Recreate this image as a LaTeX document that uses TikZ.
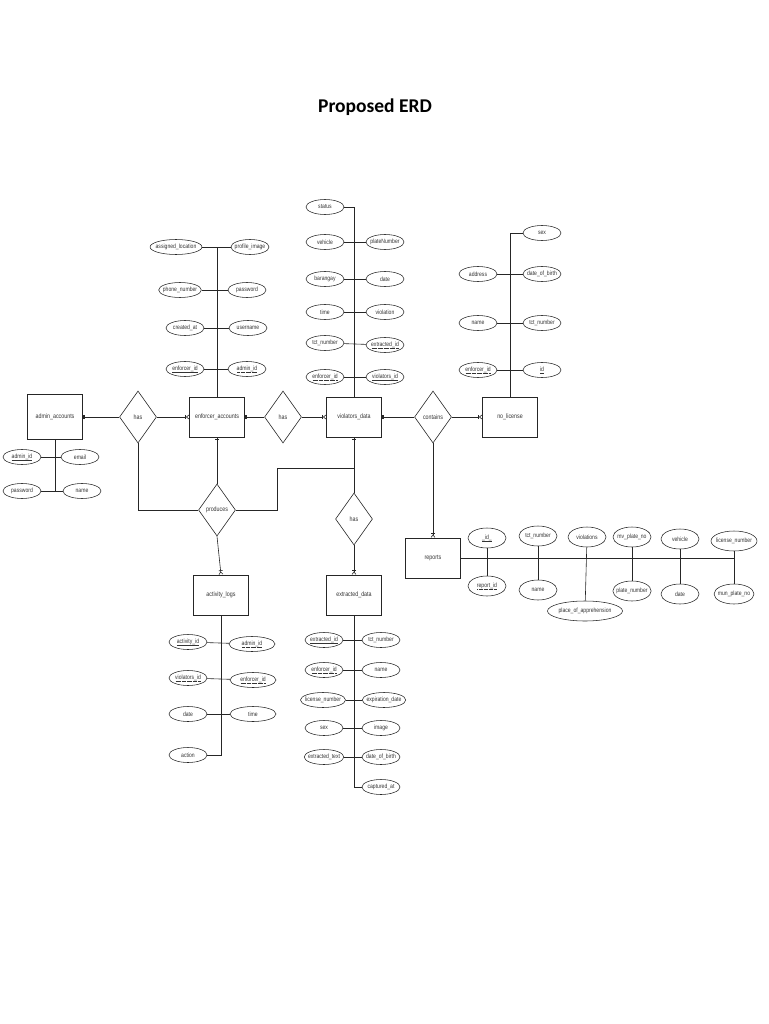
\documentclass[tikz,border=0pt]{standalone}
\usepackage{fontspec}
\usetikzlibrary{shapes.geometric,arrows.meta}
\newfontfamily\erdfont{Liberation Sans}[FakeStretch=0.82]
\newfontfamily\titlefont{Carlito}
\newsavebox{\keybox}
\newcommand{\pkey}[1]{\sbox{\keybox}{#1}\rlap{\raisebox{-1.6pt}{\rule{\wd\keybox}{0.4pt}}}\usebox{\keybox}}
\newcommand{\fkey}[1]{\sbox{\keybox}{#1}\rlap{\raisebox{-1.6pt}{\hbox to \wd\keybox{\xleaders\hbox to 1.2pt{\hss\rule{0.5pt}{0.4pt}\hss}\hfill}}}\usebox{\keybox}}
\tikzset{
    erone/.tip={Bar[width=4pt,sep=1pt]Bar[width=4pt]},
    ermany/.tip={Bar[width=4pt,sep=0.5pt]Straight Barb[reversed,length=2.5pt,width=4pt]},
    entity/.style={rectangle, draw=black!85, line width=0.6pt, minimum width=55pt, minimum height=40pt, inner sep=1pt, font=\erdfont\fontsize{6.5}{7}\selectfont, text=black!80},
    rel/.style={diamond, draw=black!85, line width=0.6pt, minimum width=37pt, minimum height=52pt, inner sep=0pt, font=\erdfont\fontsize{6.5}{7}\selectfont, text=black!80},
    attr/.style={ellipse, draw=black!85, line width=0.55pt, minimum width=38pt, minimum height=15pt, inner xsep=-2pt, inner ysep=0.5pt, font=\erdfont\fontsize{6.2}{7}\selectfont, text=black!80},
    rattr/.style={attr, minimum height=20pt}
}
\begin{document}
\begin{tikzpicture}[x=1pt, y=-1pt, line width=0.6pt, draw=black!85]
                    \useasboundingbox (0,0) rectangle (768,1024);
                    \node [font=\titlefont\bfseries\fontsize{19.5}{22}\selectfont] (title) at (375,107) {Proposed ERD};
                    \node [entity, minimum height=45pt] (aa) at (55,417) {admin\_accounts};
                    \node [entity] (ea) at (217,417) {enforcer\_accounts};
                    \node [entity] (vd) at (354,417) {violators\_data};
                    \node [entity] (nl) at (510,417) {no\_license};
                    \node [entity] (rp) at (433,558) {reports};
                    \node [entity] (al) at (221,595) {activity\_logs};
                    \node [entity] (ed) at (354,595) {extracted\_data};
                    \node [rel] (hs1) at (138,417) {has};
                    \node [rel] (hs2) at (283,417) {has};
                    \node [rel] (ct) at (433,417) {contains};
                    \node [rel] (pr) at (217,510) {produces};
                    \node [rel] (hs3) at (354,519) {has};
                    \coordinate (bend) at (277,468);
                    \coordinate (jn) at (354,468);
                    \draw [-erone] (hs1.west) -- (aa.east);
                    \draw [-ermany] (hs1.east) -- (ea.west);
                    \draw [-erone] (hs2.west) -- (ea.east);
                    \draw [-ermany] (hs2.east) -- (vd.west);
                    \draw [-erone] (ct.west) -- (vd.east);
                    \draw [-ermany] (ct.east) -- (nl.west);
                    \draw [-ermany] (ct.south) -- (rp.north);
                    \draw [-erone] (pr.north) -- (ea.south);
                    \draw (pr.west) -| (hs1.south);
                    \draw (pr.east) -| (bend) -- (jn);
                    \draw [-erone] (hs3.north) -- (vd.south);
                    \draw [-ermany] (hs3.south) -- (ed.north);
                    \draw [-ermany] (pr.south) -- (al.north);
                    \node [attr] (a1) at (22,457) {\pkey{admin\_id}};
                    \node [attr] (a2) at (80,457) {email};
                    \node [attr] (a3) at (22,491) {password};
                    \node [attr] (a4) at (82,491) {name};
                    \draw (aa.south) -- (aa.south |- a4.west);
                    \draw (a1) -- (a2);
                    \draw (a3) -- (a4);
                    \node [attr] (e1) at (176,247) {assigned\_location};
                    \node [attr] (e2) at (250,247) {profile\_image};
                    \node [attr] (e3) at (180,290) {phone\_number};
                    \node [attr] (e4) at (247,290) {password};
                    \node [attr] (e5) at (185,328) {created\_at};
                    \node [attr] (e6) at (248,328) {username};
                    \node [attr] (e7) at (185,369) {\pkey{enforcer\_id}};
                    \node [attr] (e8) at (247,369) {\fkey{admin\_id}};
                    \draw (ea.north) -- (ea.north |- e1.east);
                    \draw (e1) -- (e2);
                    \draw (e3) -- (e4);
                    \draw (e5) -- (e6);
                    \draw (e7) -- (e8);
                    \node [attr] (v0) at (325,207) {status};
                    \node [attr] (v1) at (325,242) {vehicle};
                    \node [attr] (v2) at (385,242) {plateNumber};
                    \node [attr] (v3) at (325,279) {barangay};
                    \node [attr] (v4) at (385,279) {date};
                    \node [attr] (v5) at (325,312) {time};
                    \node [attr] (v6) at (385,312) {violation};
                    \node [attr] (v7) at (325,343) {tct\_number};
                    \node [attr] (v8) at (385,345) {\fkey{extracted\_id}};
                    \node [attr] (v9) at (325,377) {\fkey{enforcer\_id}};
                    \node [attr] (v10) at (385,377) {\pkey{violators\_id}};
                    \draw (vd.north) |- (v0.east);
                    \draw (v1) -- (v2);
                    \draw (v3) -- (v4);
                    \draw (v5) -- (v6);
                    \draw (v7) -- (v8);
                    \draw (v9) -- (v10);
                    \node [attr] (n0) at (542,233) {sex};
                    \node [attr] (n1) at (478,274) {address};
                    \node [attr] (n2) at (542,274) {date\_of\_birth};
                    \node [attr] (n3) at (478,323) {name};
                    \node [attr] (n4) at (542,323) {tct\_number};
                    \node [attr] (n5) at (478,370) {\fkey{enforcer\_id}};
                    \node [attr] (n6) at (542,370) {\pkey{id}};
                    \draw (nl.north) |- (n0.west);
                    \draw (n1) -- (n2);
                    \draw (n3) -- (n4);
                    \draw (n5) -- (n6);
                    \node [rattr] (r1) at (487,538) {\pkey{\_id\_}};
                    \node [rattr] (r2) at (487,586) {\fkey{report\_id}};
                    \node [rattr] (r3) at (538,536) {tct\_number};
                    \node [rattr] (r4) at (538,590) {name};
                    \node [rattr] (r5) at (587,537) {violations};
                    \node [rattr, minimum width=75pt] (r6) at (585,611) {place\_of\_apprehension};
                    \node [rattr] (r7) at (632,537) {mv\_plate\_no};
                    \node [rattr] (r8) at (632,591) {plate\_number};
                    \node [rattr] (r9) at (680,539) {vehicle};
                    \node [rattr] (r10) at (680,594) {date};
                    \node [rattr, minimum width=46pt] (r11) at (734,541) {license\_number};
                    \node [rattr] (r12) at (734,594) {mun\_plate\_no};
                    \draw (rp.east) -- (rp.east -| r11.south);
                    \draw (r1) -- (r2);
                    \draw (r3) -- (r4);
                    \draw (r5) -- (r6);
                    \draw (r7) -- (r8);
                    \draw (r9) -- (r10);
                    \draw (r11) -- (r12);
                    \node [attr] (l1) at (188,642) {\pkey{activity\_id}};
                    \node [attr, minimum width=46pt] (l2) at (252,644) {\fkey{admin\_id}};
                    \node [attr] (l3) at (188,678) {\fkey{violators\_id}};
                    \node [attr, minimum width=46pt] (l4) at (253,680) {\fkey{enforcer\_id}};
                    \node [attr] (l5) at (188,714) {date};
                    \node [attr, minimum width=46pt] (l6) at (253,714) {time};
                    \node [attr] (l7) at (188,755) {action};
                    \draw (al.south) |- (l7.east);
                    \draw (l1) -- (l2);
                    \draw (l3) -- (l4);
                    \draw (l5) -- (l6);
                    \node [attr] (x1) at (324,640) {\pkey{extracted\_id}};
                    \node [attr] (x2) at (381,640) {tct\_number};
                    \node [attr] (x3) at (324,670) {\fkey{enforcer\_id}};
                    \node [attr] (x4) at (381,670) {name};
                    \node [attr] (x5) at (323,700) {license\_number};
                    \node [attr] (x6) at (384,700) {expiration\_date};
                    \node [attr] (x7) at (324,728) {sex};
                    \node [attr] (x8) at (381,728) {image};
                    \node [attr] (x9) at (324,757) {extracted\_text};
                    \node [attr] (x10) at (381,757) {date\_of\_birth};
                    \node [attr] (x11) at (381,787) {captured\_at};
                    \draw (ed.south) |- (x11.west);
                    \draw (x1) -- (x2);
                    \draw (x3) -- (x4);
                    \draw (x5) -- (x6);
                    \draw (x7) -- (x8);
                    \draw (x9) -- (x10);
                \end{tikzpicture}
\end{document}
